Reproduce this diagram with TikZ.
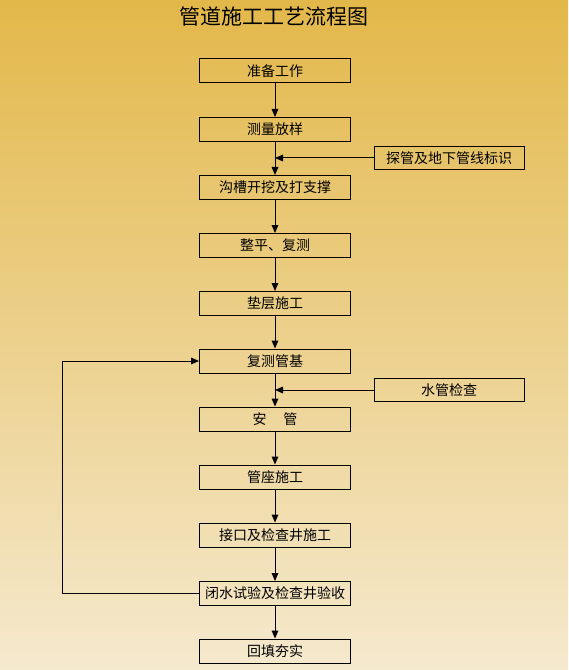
\documentclass[tikz,border=0pt]{standalone}
\usepackage{fontspec}
\setmainfont{Noto Sans CJK SC}
\usetikzlibrary{arrows.meta}
\definecolor{bgtop}{RGB}{227,184,74}
\definecolor{bgbot}{RGB}{245,233,206}

\tikzset{
  stepbox/.style={draw, line width=0.75pt, minimum width=113.25pt, minimum height=18pt, inner sep=0pt, font=\fontsize{10.5}{12}\selectfont},
  sidebox/.style={stepbox, minimum width=112.5pt, minimum height=17pt},
  flow/.style={line width=0.75pt, -{Triangle[length=6pt,width=5pt]}}
}

\begin{document}
\begin{tikzpicture}[x=0.75pt,y=0.75pt,yscale=-1,xscale=1]
%Background
\useasboundingbox (0,0) rectangle (568,670);
\shade [top color=bgtop, bottom color=bgbot] (0,0) rectangle (568,670);

% Title
\node (title) at (274,16) {\fontsize{15.75}{18}\selectfont 管道施工工艺流程图};

% Main steps
\node [stepbox] (prep) at (275,71) {准备工作};
\node [stepbox] (survey) at (275,129.5) {测量放样};
\node [stepbox] (trench) at (275,187.5) {沟槽开挖及打支撑};
\node [stepbox] (level) at (275,245.5) {整平、复测};
\node [stepbox] (cushion) at (275,303.5) {垫层施工};
\node [stepbox] (recheck) at (275,361) {复测管基};
\node [stepbox] (laying) at (275,419) {安\hspace{1.2em}管};
\node [stepbox] (seat) at (275,477) {管座施工};
\node [stepbox] (joint) at (275,535) {接口及检查井施工};
\node [stepbox] (test) at (275,593.5) {闭水试验及检查井验收};
\node [stepbox] (backfill) at (275,651) {回填夯实};

% Side inputs
\node [sidebox] (detect) at (449,158) {探管及地下管线标识};
\node [sidebox] (water) at (449,390) {水管检查};

% Main flow
\draw [flow] (prep) -- (survey);
\draw [flow] (survey) -- (trench);
\draw [flow] (trench) -- (level);
\draw [flow] (level) -- (cushion);
\draw [flow] (cushion) -- (recheck);
\draw [flow] (recheck) -- (laying);
\draw [flow] (laying) -- (seat);
\draw [flow] (seat) -- (joint);
\draw [flow] (joint) -- (test);
\draw [flow] (test) -- (backfill);

% Side arrows
\draw [flow] (detect.west) -- (detect.west -| survey.south);
\draw [flow] (water.west) -- (water.west -| recheck.south);

% Loop back
\coordinate (loop) at (62,593.5);
\draw [flow] (test.west) -- (loop) |- (recheck.west);

\end{tikzpicture}
\end{document}
